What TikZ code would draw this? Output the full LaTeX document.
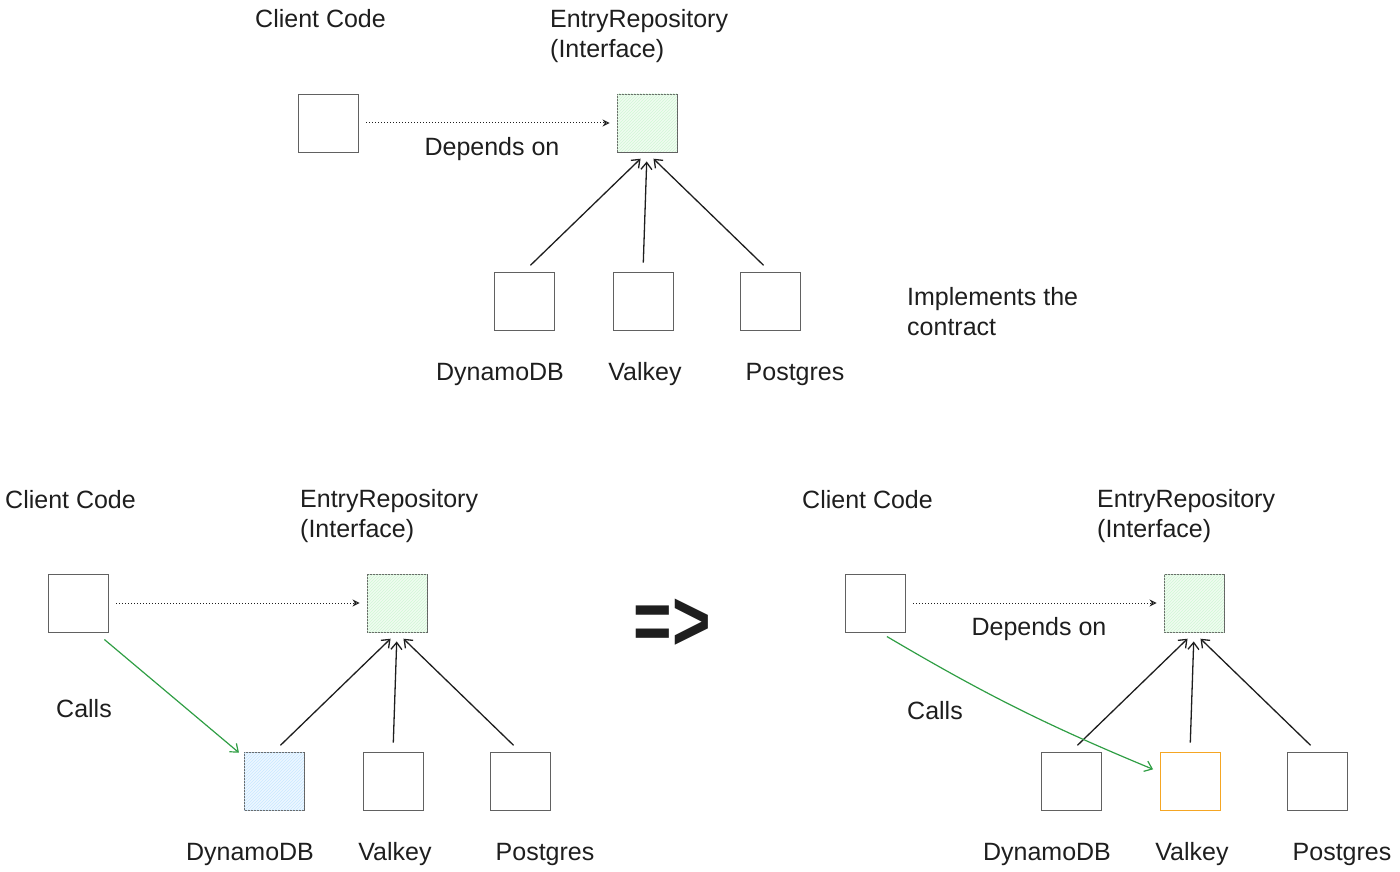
\documentclass[tikz,border=0pt]{standalone}
\usepackage{fontspec}
\setmainfont{Liberation Sans}
\usetikzlibrary{arrows.meta,patterns,positioning}
\definecolor{ink}{HTML}{1E1E1E}
\definecolor{hatchgreen}{HTML}{B2F2BB}
\definecolor{hatchblue}{HTML}{A5D8FF}
\definecolor{callgreen}{HTML}{2F9E44}
\definecolor{valorange}{HTML}{F5A623}

\begin{document}
\begin{tikzpicture}[
        x=1pt, y=-1pt,
        box/.style={draw=ink!70, line width=0.9pt, minimum width=60pt, minimum height=58pt, inner sep=0pt},
        repo/.style={box, fill=hatchgreen!20, postaction={pattern=north east lines, pattern color=hatchgreen!60}},
        picked/.style={box, fill=hatchblue!20, postaction={pattern=north east lines, pattern color=hatchblue!60}},
        word/.style={font=\fontsize{25}{30}\selectfont, text=ink, inner sep=0pt},
        level distance=178pt,
        sibling distance=123pt,
        edge from parent/.style={draw=ink, line width=1.3pt, {Straight Barb[length=7pt,width=11pt]}-, shorten <=9pt, shorten >=9pt},
        edge from parent path={(\tikzparentnode.south) -- (\tikzchildnode.north)},
        depends/.style={draw=ink, line width=1pt, dotted, -{Stealth[open,length=7pt,width=7pt]}, shorten <=8pt, shorten >=7pt},
        calls/.style={draw=callgreen, line width=1.2pt, -{Straight Barb[length=7pt,width=11pt]}}
    ]
        \useasboundingbox (0,0) rectangle (1400,872);

        % Contract
        \node[word, anchor=base west] (cc1) at (255,28) {Client Code};
        \node[word, anchor=north west, align=left] (er1) at (550,9) {EntryRepository\\(Interface)};
        \node[box] (c1) at (328,123) {};
        \node[repo] (r1) at (647,123) {}
        child { node[box] (d1) {} }
        child { node[box, xshift=-4pt] (v1) {} }
        child { node[box] (p1) {} };
        \draw[depends] (c1) -- (r1);
        \node[word, anchor=base] (dep1) at (492,155) {Depends on};
        \node[word, anchor=base] (dl1) at (500,380) {DynamoDB};
        \node[word, anchor=base] (vl1) at (645,380) {Valkey};
        \node[word, anchor=base] (pl1) at (795,380) {Postgres};
        \node[word, anchor=north west, align=left] (impl) at (907,287) {Implements the\\contract};

        % DynamoDB in use
        \begin{scope}[xshift=-250pt, yshift=-480pt]
        \node[word, anchor=base west] (cc2) at (255,28) {Client Code};
        \node[word, anchor=north west, align=left] (er2) at (550,9) {EntryRepository\\(Interface)};
        \node[box] (c2) at (328,123) {};
        \node[repo] (r2) at (647,123) {}
        child { node[picked] (d2) {} }
        child { node[box, xshift=-4pt] (v2) {} }
        child { node[box] (p2) {} };
        \draw[depends] (c2) -- (r2);
        \draw[calls, shorten <=11pt, shorten >=6pt] ([xshift=18pt]c2.south) -- ([yshift=-5pt]d2.north west);
        \node[word, anchor=base] (call2) at (334,237) {Calls};
        \node[word, anchor=base] (dl2) at (500,380) {DynamoDB};
        \node[word, anchor=base] (vl2) at (645,380) {Valkey};
        \node[word, anchor=base] (pl2) at (795,380) {Postgres};
        \end{scope}

        % Switch
        \node[word, font=\fontsize{66}{66}\selectfont\bfseries] (then) at (672,625) {\scalebox{1}[1.3]{=>}};

        % Valkey in use
        \begin{scope}[xshift=547pt, yshift=-480pt]
        \node[word, anchor=base west] (cc3) at (255,28) {Client Code};
        \node[word, anchor=north west, align=left] (er3) at (550,9) {EntryRepository\\(Interface)};
        \node[box] (c3) at (328,123) {};
        \node[repo] (r3) at (647,123) {}
        child { node[box] (d3) {} }
        child { node[box, draw=valorange, xshift=-4pt] (v3) {} }
        child { node[box] (p3) {} };
        \draw[depends] (c3) -- (r3);
        \node[word, anchor=base] (dep3) at (492,155) {Depends on};
        \draw[calls, shorten <=8pt, shorten >=7pt] ([xshift=5pt]c3.south) to[bend right=4] ([yshift=9pt]v3.west);
        \node[word, anchor=base] (call3) at (388,239) {Calls};
        \node[word, anchor=base] (dl3) at (500,380) {DynamoDB};
        \node[word, anchor=base] (vl3) at (645,380) {Valkey};
        \node[word, anchor=base] (pl3) at (795,380) {Postgres};
        \end{scope}
    \end{tikzpicture}
\end{document}
